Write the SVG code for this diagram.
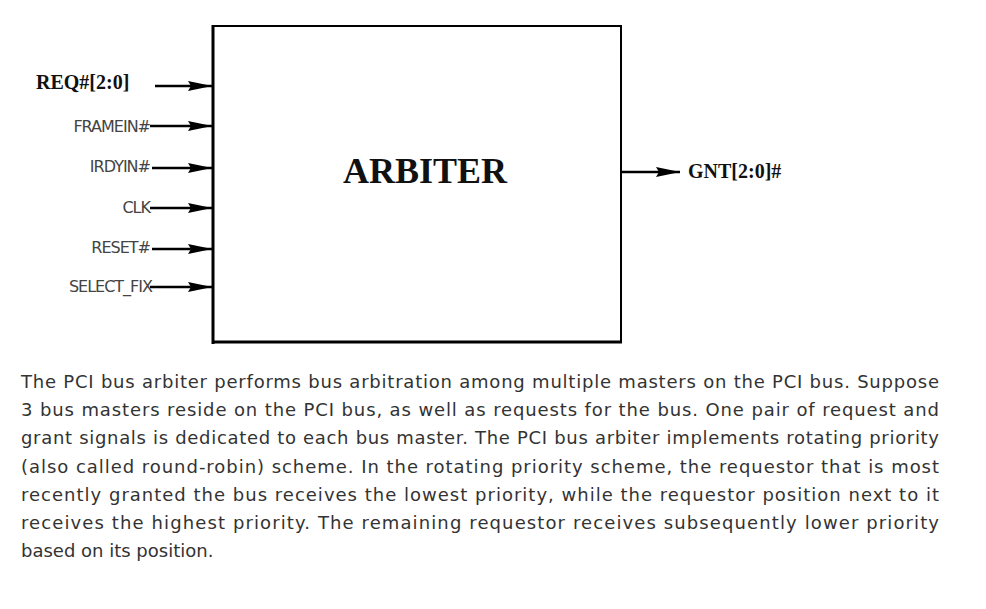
<svg xmlns="http://www.w3.org/2000/svg" width="986" height="609" viewBox="0 0 986 609">
<style>
.w{stroke:#000;stroke-width:2.5;fill:none}
.s{font-family:"DejaVu Sans",sans-serif;font-size:16px;fill:#444;text-anchor:end;letter-spacing:-1px}
.b{font-family:"Liberation Serif",serif;font-weight:bold;fill:#111}
.p{font-family:"DejaVu Sans",sans-serif;font-size:18px;fill:#333}
</style>
<defs><marker id="a" markerWidth="8" markerHeight="6" refX="8" refY="3" orient="auto" markerUnits="userSpaceOnUse" viewBox="0 0 8 6"><path d="M0,0L8,3L0,6z" fill="#000"/></marker>
<marker id="h" viewBox="0 0 24 12" refX="24" refY="6" markerWidth="24" markerHeight="12" orient="auto" markerUnits="userSpaceOnUse"><path d="M0,1L24,6L0,11L3,6z" fill="#000"/></marker></defs>
<rect width="986" height="609" fill="#fff"/>
<g id="arbiter">
<rect x="213" y="26" width="408" height="316" fill="#fff" stroke="#000" stroke-width="2"/>
<line x1="213" y1="25" x2="213" y2="344" stroke="#000" stroke-width="3"/>
<line x1="212" y1="342" x2="622" y2="342" stroke="#000" stroke-width="3"/>
<text class="b" x="425" y="183" font-size="36" text-anchor="middle">ARBITER</text>
</g>
<g id="connectors">
<line class="w" x1="155" y1="86" x2="212" y2="86" marker-end="url(#h)"/>
<line class="w" x1="150" y1="126" x2="212" y2="126" marker-end="url(#h)"/>
<line class="w" x1="152" y1="168" x2="212" y2="168" marker-end="url(#h)"/>
<line class="w" x1="150" y1="208" x2="212" y2="208" marker-end="url(#h)" stroke-width="1.5"/>
<line class="w" x1="152" y1="249" x2="212" y2="249" marker-end="url(#h)"/>
<line class="w" x1="150" y1="287" x2="212" y2="287" marker-end="url(#h)"/>
<line class="w" x1="621" y1="172" x2="680" y2="172" marker-end="url(#h)" stroke-width="1.5"/>
</g>
<g id="labels">
<text class="b" x="36" y="89" font-size="20">REQ#[2:0]</text>
<text class="s" x="150" y="132">FRAMEIN#</text>
<text class="s" x="150" y="172">IRDYIN#</text>
<text class="s" x="150" y="213">CLK</text>
<text class="s" x="150" y="253">RESET#</text>
<text class="s" x="152" y="292">SELECT_FIX</text>
<text class="b" x="688" y="178" font-size="20">GNT[2:0]#</text>
</g>
<g id="para">
<text class="p" x="21" y="388" textLength="918" lengthAdjust="spacing">The PCI bus arbiter performs bus arbitration among multiple masters on the PCI bus. Suppose</text>
<text class="p" x="21" y="416" textLength="918" lengthAdjust="spacing">3 bus masters reside on the PCI bus, as well as requests for the bus. One pair of request and</text>
<text class="p" x="21" y="444" textLength="918" lengthAdjust="spacing">grant signals is dedicated to each bus master. The PCI bus arbiter implements rotating priority</text>
<text class="p" x="21" y="473" textLength="918" lengthAdjust="spacing">(also called round-robin) scheme. In the rotating priority scheme, the requestor that is most</text>
<text class="p" x="21" y="501" textLength="918" lengthAdjust="spacing">recently granted the bus receives the lowest priority, while the requestor position next to it</text>
<text class="p" x="21" y="529" textLength="918" lengthAdjust="spacing">receives the highest priority. The remaining requestor receives subsequently lower priority</text>
<text class="p" x="21" y="557">based on its position.</text>
</g>
</svg>
